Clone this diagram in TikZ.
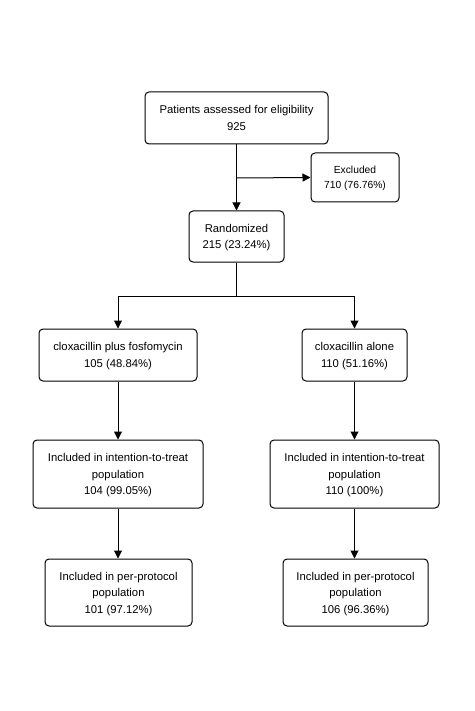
\documentclass[tikz,border=0pt]{standalone}
\usepackage{fontspec}
\setmainfont{Liberation Sans}
\usetikzlibrary{arrows.meta}
\begin{document}
\begin{tikzpicture}[x=1pt,y=-1pt,
  box/.style={draw, line width=1pt, rounded corners=4pt, align=center, inner sep=0pt,
    font=\fontsize{11.3}{16.5}\selectfont, text depth=0pt},
  small/.style={font=\fontsize{10.3}{15}\selectfont},
  conn/.style={line width=1pt, -{Triangle[length=8pt,width=8pt]}},
  plain/.style={line width=1pt}]
\useasboundingbox (0,0) rectangle (474,711);
\node[box, minimum width=183pt, minimum height=52pt] (pat) at (236.5,118) {Patients assessed for eligibility\\925};
\node[box, small, minimum width=88pt, minimum height=49pt] (exc) at (355,177.5) {Excluded\\710 (76.76\%)};
\node[box, minimum width=95pt, minimum height=51pt] (ran) at (236.5,236.5) {Randomized\\215 (23.24\%)};
\node[box, minimum width=158pt, minimum height=52pt] (cpf) at (118,355) {cloxacillin plus fosfomycin\\105 (48.84\%)};
\node[box, minimum width=105pt, minimum height=52pt] (ca) at (354.5,355) {cloxacillin alone\\110 (51.16\%)};
\node[box, minimum width=170pt, minimum height=68pt] (ittl) at (118,474) {Included in intention-to-treat\\population\\104 (99.05\%)};
\node[box, minimum width=169pt, minimum height=68pt] (ittr) at (354.5,474) {Included in intention-to-treat\\population\\110 (100\%)};
\node[box, minimum width=147pt, minimum height=67pt] (ppl) at (118.5,592.5) {Included in per-protocol\\population\\101 (97.12\%)};
\node[box, minimum width=145pt, minimum height=67pt] (ppr) at (355.5,592.5) {Included in per-protocol\\population\\106 (96.36\%)};
\coordinate (br) at (236.5,178);
\coordinate (split) at (236.5,296);
\coordinate (sl) at (118,296);
\coordinate (sr) at (354.5,296);
\draw[conn] (pat.south) -- (ran.north);
\draw[conn] (br) -- (exc.west);
\draw[plain] (ran.south) -- (split);
\draw[conn] (split) -- (sl) -- (cpf.north);
\draw[conn] (split) -- (sr) -- (ca.north);
\draw[conn] (cpf.south) -- (ittl.north);
\draw[conn] (ca.south) -- (ittr.north);
\draw[conn] (ittl.south) -- (ppl.north -| ittl.south);
\draw[conn] (ittr.south) -- (ppr.north -| ittr.south);
\end{tikzpicture}
\end{document}
